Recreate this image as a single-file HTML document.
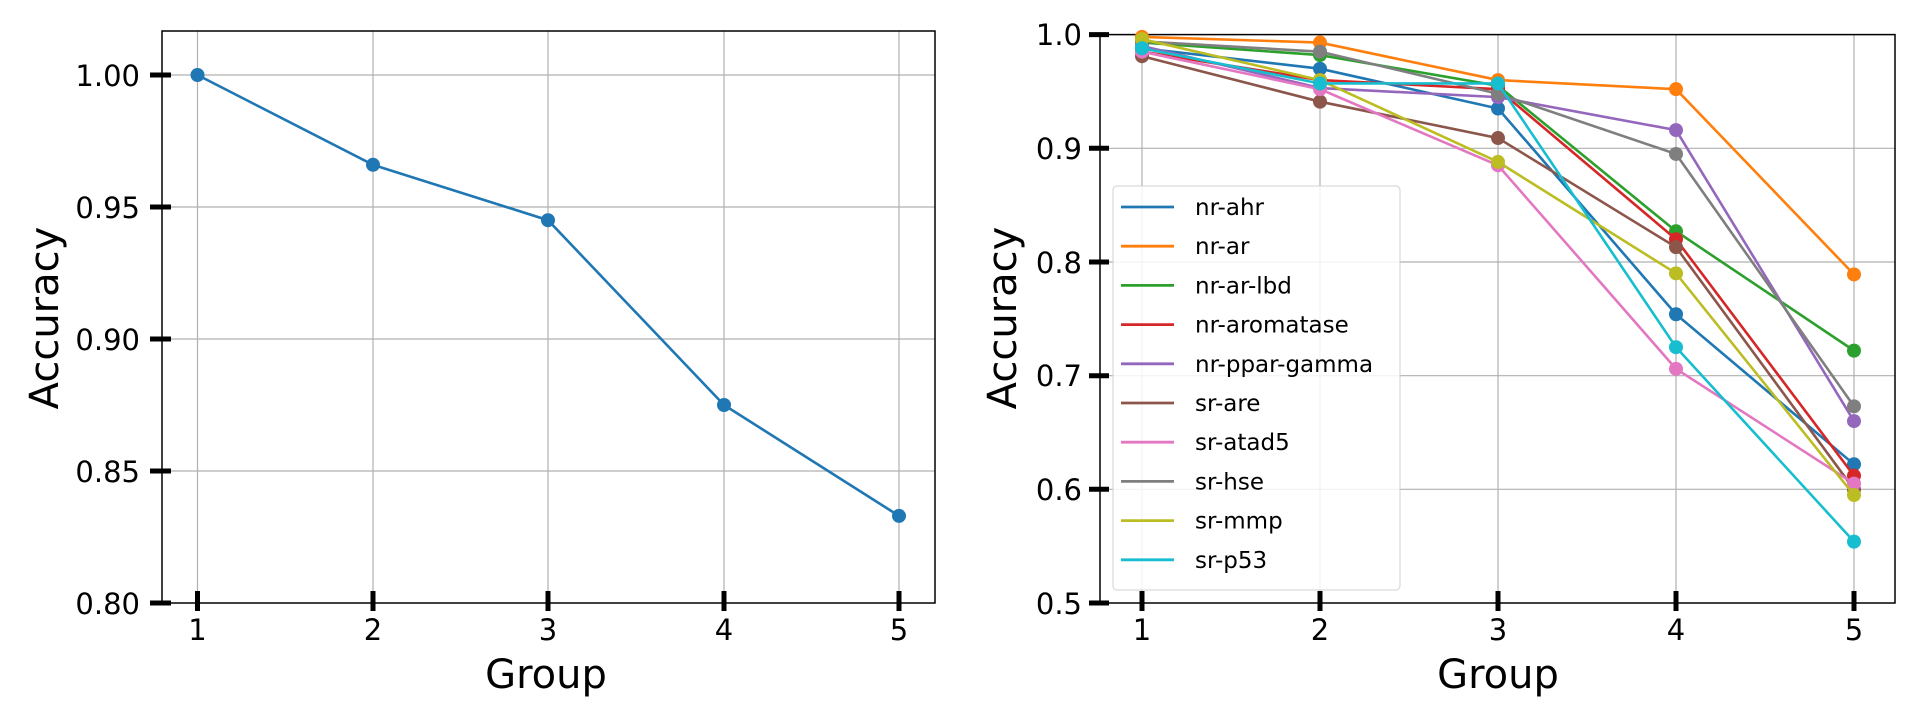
<!DOCTYPE html>
<html><head><meta charset="utf-8"><style>body{margin:0;background:#fff}svg{display:block}text{font-family:"DejaVu Sans","Liberation Sans",sans-serif;fill:#000}</style></head>
<body>
<svg width="1920" height="720" xmlns="http://www.w3.org/2000/svg">
<rect width="1920" height="720" fill="#fff"/>
<!-- LEFT -->
<g stroke="#b0b0b0" stroke-width="1.2">
<line x1="197.5" y1="31" x2="197.5" y2="603"/><line x1="373" y1="31" x2="373" y2="603"/><line x1="548" y1="31" x2="548" y2="603"/><line x1="724" y1="31" x2="724" y2="603"/><line x1="899" y1="31" x2="899" y2="603"/>
<line x1="162" y1="75" x2="935" y2="75"/><line x1="162" y1="207" x2="935" y2="207"/><line x1="162" y1="339" x2="935" y2="339"/><line x1="162" y1="471" x2="935" y2="471"/>
</g>
<rect x="162" y="31" width="773" height="572" fill="none" stroke="#000" stroke-width="1.5"/>
<polyline fill="none" stroke="#1f77b4" stroke-width="2.6" points="197.5,75 373,164.8 548,220.2 724,405 899,515.9"/>
<g fill="#1f77b4"><circle cx="197.5" cy="75" r="7"/><circle cx="373" cy="164.8" r="7"/><circle cx="548" cy="220.2" r="7"/><circle cx="724" cy="405" r="7"/><circle cx="899" cy="515.9" r="7"/></g>
<g stroke="#000" stroke-width="5">
<line x1="150" y1="75" x2="171" y2="75"/><line x1="150" y1="207" x2="171" y2="207"/><line x1="150" y1="339" x2="171" y2="339"/><line x1="150" y1="471" x2="171" y2="471"/><line x1="150" y1="603" x2="171" y2="603"/>
<line x1="197.5" y1="591" x2="197.5" y2="611"/><line x1="373" y1="591" x2="373" y2="611"/><line x1="548" y1="591" x2="548" y2="611"/><line x1="724" y1="591" x2="724" y2="611"/><line x1="899" y1="591" x2="899" y2="611"/>
</g>
<g font-size="29" text-anchor="end">
<text x="140" y="86">1.00</text><text x="140" y="218">0.95</text><text x="140" y="350">0.90</text><text x="140" y="482">0.85</text><text x="140" y="614">0.80</text></g>
<g font-size="29" text-anchor="middle">
<text x="197.5" y="640">1</text><text x="373" y="640">2</text><text x="548" y="640">3</text><text x="724" y="640">4</text><text x="899" y="640">5</text></g>
<text x="546" y="688" font-size="40" text-anchor="middle">Group</text>
<text transform="translate(58,318) rotate(-90)" font-size="40" text-anchor="middle">Accuracy</text>

<!-- RIGHT -->
<g stroke="#b0b0b0" stroke-width="1.2">
<line x1="1142" y1="34.6" x2="1142" y2="603"/><line x1="1320" y1="34.6" x2="1320" y2="603"/><line x1="1498" y1="34.6" x2="1498" y2="603"/><line x1="1676" y1="34.6" x2="1676" y2="603"/><line x1="1854" y1="34.6" x2="1854" y2="603"/>
<line x1="1100" y1="148.3" x2="1895" y2="148.3"/><line x1="1100" y1="262" x2="1895" y2="262"/><line x1="1100" y1="375.7" x2="1895" y2="375.7"/><line x1="1100" y1="489.3" x2="1895" y2="489.3"/>
</g>
<rect x="1100" y="34.6" width="795" height="568.4" fill="none" stroke="#000" stroke-width="1.5"/>
<g id="series"></g>
<g stroke="#000" stroke-width="5">
<line x1="1089" y1="34.6" x2="1109" y2="34.6"/><line x1="1089" y1="148.3" x2="1109" y2="148.3"/><line x1="1089" y1="262" x2="1109" y2="262"/><line x1="1089" y1="375.7" x2="1109" y2="375.7"/><line x1="1089" y1="489.3" x2="1109" y2="489.3"/><line x1="1089" y1="603" x2="1109" y2="603"/>
<line x1="1142" y1="591" x2="1142" y2="611"/><line x1="1320" y1="591" x2="1320" y2="611"/><line x1="1498" y1="591" x2="1498" y2="611"/><line x1="1676" y1="591" x2="1676" y2="611"/><line x1="1854" y1="591" x2="1854" y2="611"/>
</g>
<g font-size="29" text-anchor="end">
<text x="1082" y="45">1.0</text><text x="1082" y="159">0.9</text><text x="1082" y="273">0.8</text><text x="1082" y="386">0.7</text><text x="1082" y="500">0.6</text><text x="1082" y="614">0.5</text></g>
<g font-size="29" text-anchor="middle">
<text x="1142" y="640">1</text><text x="1320" y="640">2</text><text x="1498" y="640">3</text><text x="1676" y="640">4</text><text x="1854" y="640">5</text></g>
<text x="1498" y="688" font-size="40" text-anchor="middle">Group</text>
<text transform="translate(1016,318) rotate(-90)" font-size="40" text-anchor="middle">Accuracy</text>
<g id="legend"><rect x="1113" y="186" width="287" height="404" rx="4" fill="#fff" fill-opacity="0.85" stroke="#d0d0d0"/></g>
</svg>
<script>
var data=[
["nr-ahr","#1f77b4",[0.988,0.970,0.935,0.754,0.622]],
["nr-ar","#ff7f0e",[0.998,0.993,0.960,0.952,0.789]],
["nr-ar-lbd","#2ca02c",[0.993,0.982,0.955,0.827,0.722]],
["nr-aromatase","#d62728",[0.985,0.960,0.952,0.820,0.612]],
["nr-ppar-gamma","#9467bd",[0.990,0.953,0.945,0.916,0.660]],
["sr-are","#8c564b",[0.981,0.941,0.909,0.813,0.600]],
["sr-atad5","#e377c2",[0.985,0.952,0.885,0.706,0.605]],
["sr-hse","#7f7f7f",[0.994,0.985,0.948,0.895,0.673]],
["sr-mmp","#bcbd22",[0.996,0.960,0.888,0.790,0.595]],
["sr-p53","#17becf",[0.988,0.957,0.957,0.725,0.554]]];
var NS="http://www.w3.org/2000/svg",g=document.getElementById("series"),lg=document.getElementById("legend");
function X(i){return 1142+178*i}function Y(v){return 603-(v-0.5)*1136.8}
function el(t,a,p){var e=document.createElementNS(NS,t);for(var k in a)e.setAttribute(k,a[k]);p.appendChild(e);return e}
data.forEach(function(d,j){
 var pts=d[2].map(function(v,i){return X(i)+","+Y(v)}).join(" ");
 el("polyline",{points:pts,fill:"none",stroke:d[1],"stroke-width":2.6},g);
 d[2].forEach(function(v,i){el("circle",{cx:X(i),cy:Y(v),r:7,fill:d[1]},g)});
 var y=207+j*39.2;
 el("line",{x1:1121,y1:y,x2:1174,y2:y,stroke:d[1],"stroke-width":2.8},lg);
 var t=el("text",{x:1195,y:y+8,"font-size":23},lg);t.textContent=d[0];
});
</script>
</body></html>
